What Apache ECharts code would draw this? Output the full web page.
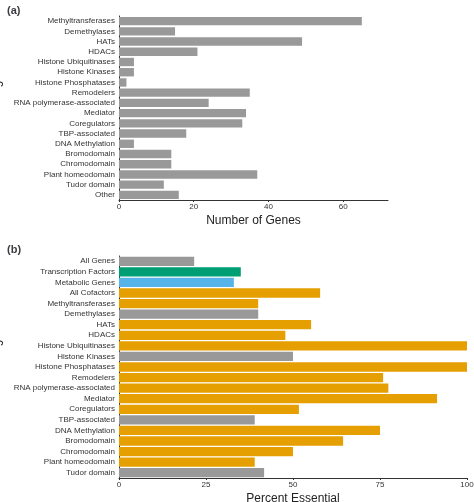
<!DOCTYPE html>
<html>
<head>
<meta charset="utf-8">
<script src="https://cdn.jsdelivr.net/npm/echarts@6/dist/echarts.min.js"></script>
<style>html,body{margin:0;padding:0;background:#fff}#c{width:474px;height:502px}</style>
</head>
<body>
<div id="c"></div>
<script>
// panel (a)
const catsA = ['Methyltransferases', 'Demethylases', 'HATs', 'HDACs', 'Histone Ubiquitinases', 'Histone Kinases',
	'Histone Phosphatases', 'Remodelers', 'RNA polymerase-associated', 'Mediator', 'Coregulators', 'TBP-associated',
	'DNA Methylation', 'Bromodomain', 'Chromodomain', 'Plant homeodomain', 'Tudor domain', 'Other'];
const genesA = [65, 15, 49, 21, 4, 4, 2, 35, 24, 34, 33, 18, 4, 14, 14, 37, 12, 16];
const ticksA = [0, 20, 40, 60];

// panel (b)
const catsB = ['All Genes', 'Transcription Factors', 'Metabolic Genes', 'All Cofactors', 'Methyltransferases',
	'Demethylases', 'HATs', 'HDACs', 'Histone Ubiquitinases', 'Histone Kinases', 'Histone Phosphatases', 'Remodelers',
	'RNA polymerase-associated', 'Mediator', 'Coregulators', 'TBP-associated', 'DNA Methylation', 'Bromodomain',
	'Chromodomain', 'Plant homeodomain', 'Tudor domain'];
const pctB = [21.6, 35, 33, 57.8, 40, 40, 55.2, 47.8, 100, 50, 100, 75.9, 77.4, 91.4, 51.7, 39, 75, 64.4, 50, 39, 41.7];
// colour group per bar: g = grey, t = TF, m = metabolic, o = significant
const groupB = ['g', 't', 'm', 'o', 'o', 'g', 'o', 'o', 'o', 'g', 'o', 'o', 'o', 'o', 'o', 'g', 'o', 'o', 'o', 'o', 'g'];
const ticksB = [0, 25, 50, 75, 100];

const colors = { g: '#999999', t: '#009E73', m: '#56B4E9', o: '#E69F00' };
const font = 'Liberation Sans';

function catAxis(idx, cats) {
	return {
		type: 'category', gridIndex: idx, data: cats, inverse: true,
		name: 'Cofactor Categories', nameLocation: 'middle', nameGap: 101,
		nameTextStyle: { fontSize: 12, color: '#222', fontFamily: font },
		axisLine: { lineStyle: { color: '#333' } },
		axisTick: { alignWithLabel: true, length: 2, lineStyle: { color: '#333' } },
		axisLabel: { fontSize: 8, color: '#333', fontFamily: font, margin: 4, interval: 0 }
	};
}
function valAxis(idx, max, interval, name) {
	return {
		type: 'value', gridIndex: idx, min: 0, max: max, interval: interval,
		name: name, nameLocation: 'middle', nameGap: 15,
		nameTextStyle: { fontSize: 12, color: '#222', fontFamily: font },
		splitLine: { show: false },
		axisLine: { show: true, lineStyle: { color: '#333' } },
		axisTick: { show: true, length: 2, lineStyle: { color: '#333' } },
		axisLabel: { fontSize: 8, color: '#333', fontFamily: font, margin: 3, showMaxLabel: max === 100 }
	};
}

const chart = echarts.init(document.getElementById('c'));
chart.setOption({
	backgroundColor: '#ffffff',
	animation: false,
	title: [
		{ text: '(a)', left: 2, top: 0, textStyle: { fontSize: 11, fontWeight: 'bold', fontFamily: font } },
		{ text: '(b)', left: 2, top: 239, textStyle: { fontSize: 11, fontWeight: 'bold', fontFamily: font } }
	],
	grid: [
		{ left: 119, top: 16, width: 269, height: 184, containLabel: false, outerBoundsMode: 'none' },
		{ left: 119, top: 256, width: 348, height: 222, containLabel: false, outerBoundsMode: 'none' }
	],
	xAxis: [
		valAxis(0, 72, 20, 'Number of Genes'),
		valAxis(1, 100, 25, 'Percent Essential')
	],
	yAxis: [catAxis(0, catsA), catAxis(1, catsB)],
	series: [
		{
			type: 'bar', xAxisIndex: 0, yAxisIndex: 0, data: genesA,
			barCategoryGap: '18%', itemStyle: { color: '#999999' }
		},
		{
			type: 'bar', xAxisIndex: 1, yAxisIndex: 1,
			data: pctB.map((v, i) => ({ value: v, itemStyle: { color: colors[groupB[i]] } })),
			barCategoryGap: '12%'
		}
	]
});
</script>
</body>
</html>
